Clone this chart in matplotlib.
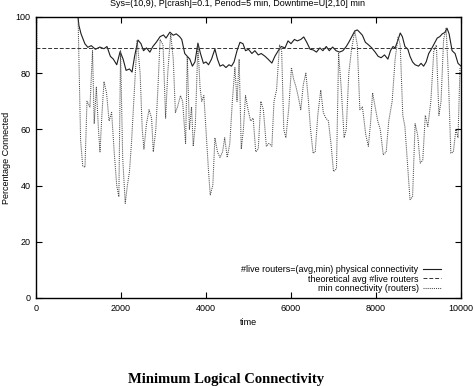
import matplotlib
matplotlib.use("Agg")
import matplotlib.pyplot as plt

# physical connectivity (avg, min) vs time
phys_t = [0, 990, 1010, 1060, 1150, 1220, 1300, 1400, 1500, 1600, 1670, 1750, 1820, 1900, 1980,
          2050, 2120, 2200, 2260, 2320, 2400, 2470, 2530, 2600, 2680, 2750, 2830, 2920, 3000,
          3060, 3150, 3230, 3300, 3380, 3430, 3500, 3560, 3620, 3680, 3740, 3810, 3870, 3940,
          4000, 4060, 4130, 4210, 4270, 4330, 4400, 4470, 4540, 4600, 4660, 4730, 4800, 4870,
          4930, 5000, 5080, 5150, 5230, 5300, 5390, 5460, 5550, 5620, 5700, 5770, 5860, 5930,
          6000, 6080, 6150, 6230, 6300, 6370, 6450, 6520, 6600, 6680, 6750, 6830, 6900, 6980,
          7060, 7140, 7220, 7300, 7360, 7430, 7500, 7560, 7620, 7680, 7750, 7830, 7900, 7980,
          8050, 8120, 8200, 8280, 8340, 8400, 8450, 8510, 8570, 8620, 8680, 8750, 8800, 8860,
          8920, 9000, 9060, 9120, 9180, 9240, 9300, 9370, 9440, 9500, 9560, 9620, 9670, 9720,
          9790, 9860, 9930, 10000]
phys_v = [100, 100, 97, 94, 90.5, 89.2, 89.8, 88.5, 89.3, 88.7, 89.5, 86, 85, 83, 87.7,
          85, 81, 81.5, 80.4, 86, 91.8, 90.5, 88, 89, 87.5, 89.5, 91, 93, 93.6,
          92.5, 94.6, 93.5, 94, 93, 92, 87, 86, 85, 82.5, 84, 90.7, 87, 83.5,
          84, 83, 85, 88.6, 85, 82.5, 83, 82, 83, 82.5, 84, 88, 91, 90.5,
          88, 88.5, 87, 88, 86.5, 87, 86, 85, 83.6, 86, 88, 89.5, 89, 91.5,
          90.5, 92, 91.5, 92, 92.9, 91, 88.5, 88.3, 87.5, 89, 88, 89.5, 88, 89.3,
          88, 87.5, 88, 89.5, 91, 93, 95, 95.4, 94.5, 93.5, 91, 90, 89, 87.5,
          86, 85.5, 86.5, 85, 88, 89.5, 89, 91.5, 94.3, 93, 89.5, 88.5, 86, 84,
          83, 82.5, 83.5, 82.5, 84, 87, 88.5, 90.5, 92.5, 93, 94, 94.5, 96, 94,
          88, 87, 83.5, 82.5]

# theoretical average number of live routers
theo_avg = 88.9

# min logical connectivity (routers)
min_t = [0, 20, 990, 1050, 1100, 1153, 1200, 1270, 1330, 1370, 1420, 1470, 1506, 1550, 1600,
         1660, 1720, 1780, 1840, 1900, 1950, 1990, 2040, 2100, 2150, 2200, 2250, 2300, 2380,
         2450, 2500, 2540, 2600, 2660, 2720, 2760, 2820, 2870, 2920, 2990, 3050, 3100, 3170,
         3230, 3280, 3330, 3400, 3450, 3520, 3560, 3610, 3660, 3700, 3750, 3810, 3860, 3900,
         3950, 4000, 4060, 4100, 4160, 4210, 4270, 4330, 4390, 4440, 4500, 4560, 4620, 4680,
         4730, 4780, 4830, 4880, 4930, 4990, 5050, 5110, 5170, 5230, 5290, 5350, 5420, 5480,
         5550, 5600, 5660, 5730, 5780, 5830, 5880, 5950, 6010, 6060, 6120, 6180, 6230, 6290,
         6350, 6400, 6460, 6520, 6570, 6630, 6700, 6760, 6820, 6880, 6940, 7000, 7070, 7120,
         7180, 7250, 7300, 7360, 7420, 7500, 7560, 7620, 7680, 7760, 7820, 7870, 7920, 7980,
         8040, 8100, 8170, 8240, 8300, 8380, 8450, 8520, 8570, 8630, 8680, 8740, 8800, 8860,
         8920, 8980, 9040, 9100, 9160, 9220, 9290, 9360, 9420, 9480, 9530, 9590, 9650, 9700,
         9760, 9820, 9880, 9930, 9976]
min_v = [11, 100, 100, 56, 47, 46.5, 70, 68, 88, 62, 75, 60, 52, 65, 77,
         73, 63, 66, 52, 40, 36, 88, 50, 33.7, 40, 45, 56, 70, 91.8,
         80, 60, 53, 62, 67, 64, 52, 60, 75, 92, 90, 64, 80, 94,
         85, 66, 68, 72, 70, 55, 86, 60, 68, 54, 62, 90, 75, 70,
         72, 60, 45, 36.7, 40, 57, 52, 50, 52, 57, 50, 55, 70, 82,
         70, 85, 53, 60, 72, 67, 63, 64, 52, 53, 70, 67, 54, 55,
         54, 70, 74, 90, 88, 60, 57, 68, 82, 78, 75, 71, 67, 76,
         80, 72, 60, 51.5, 52, 65, 74, 66, 64, 63, 55, 45, 46, 87,
         75, 57, 60, 80, 88, 95, 90, 67, 68, 58, 54, 62, 73, 68,
         63, 60, 51, 52, 63, 70, 85, 93, 90, 65, 61, 48, 35, 36,
         62, 58, 48, 49, 65, 61, 70, 88, 90, 65, 70, 92, 96, 80,
         51.5, 52, 60, 57, 82]

labels = ["#live routers=(avg,min) physical connectivity",
          "theoretical avg #live routers",
          "min connectivity (routers)"]

plt.rcParams['font.family'] = ['Liberation Sans', 'DejaVu Sans']

fig = plt.figure(figsize=(4.74, 3.86), dpi=100)
ax = fig.add_axes([0.0759, 0.228, 0.8967, 0.728])

ax.plot(phys_t, phys_v, color='#1e1e1e', lw=0.8, label=labels[0])
ax.axhline(theo_avg, color='#333333', lw=0.7, ls=(0, (4, 2)), label=labels[1])
ax.plot(min_t, min_v, color='#4a4a4a', lw=0.75, ls=(0, (1, 1)), label=labels[2])

ax.set_xlim(0, 10000)
ax.set_ylim(0, 100)
ax.set_xticks(range(0, 10001, 2000))
ax.set_yticks(range(0, 101, 20))
ax.tick_params(direction='in', top=True, right=True, length=4, width=0.8,
               labelsize=6.5, pad=4)
for s in ax.spines.values():
    s.set_linewidth(1.0)
ax.set_xlabel("time", fontsize=6.5, labelpad=4)
ax.set_ylabel("Percentage Connected", fontsize=6.5, labelpad=3)

ax.legend(loc='lower right', frameon=False, markerfirst=False, fontsize=6.5,
          handlelength=2.0, handletextpad=0.5, labelspacing=0.05,
          borderaxespad=0.15, bbox_to_anchor=(0.965, 0.0))
for t in ax.get_legend().get_texts():
    t.set_ha('right')

fig.text(0.5, 1 - 3 / 386, "Sys=(10,9), P[crash]=0.1, Period=5 min, Downtime=U[2,10] min",
         ha='center', va='center', fontsize=6.5)
fig.text(226 / 474, 1 - 379 / 386, "Minimum Logical Connectivity", ha='center', va='center',
         fontsize=10.5, fontweight='bold', family='Liberation Serif')

fig.savefig("out.png", dpi=100)
